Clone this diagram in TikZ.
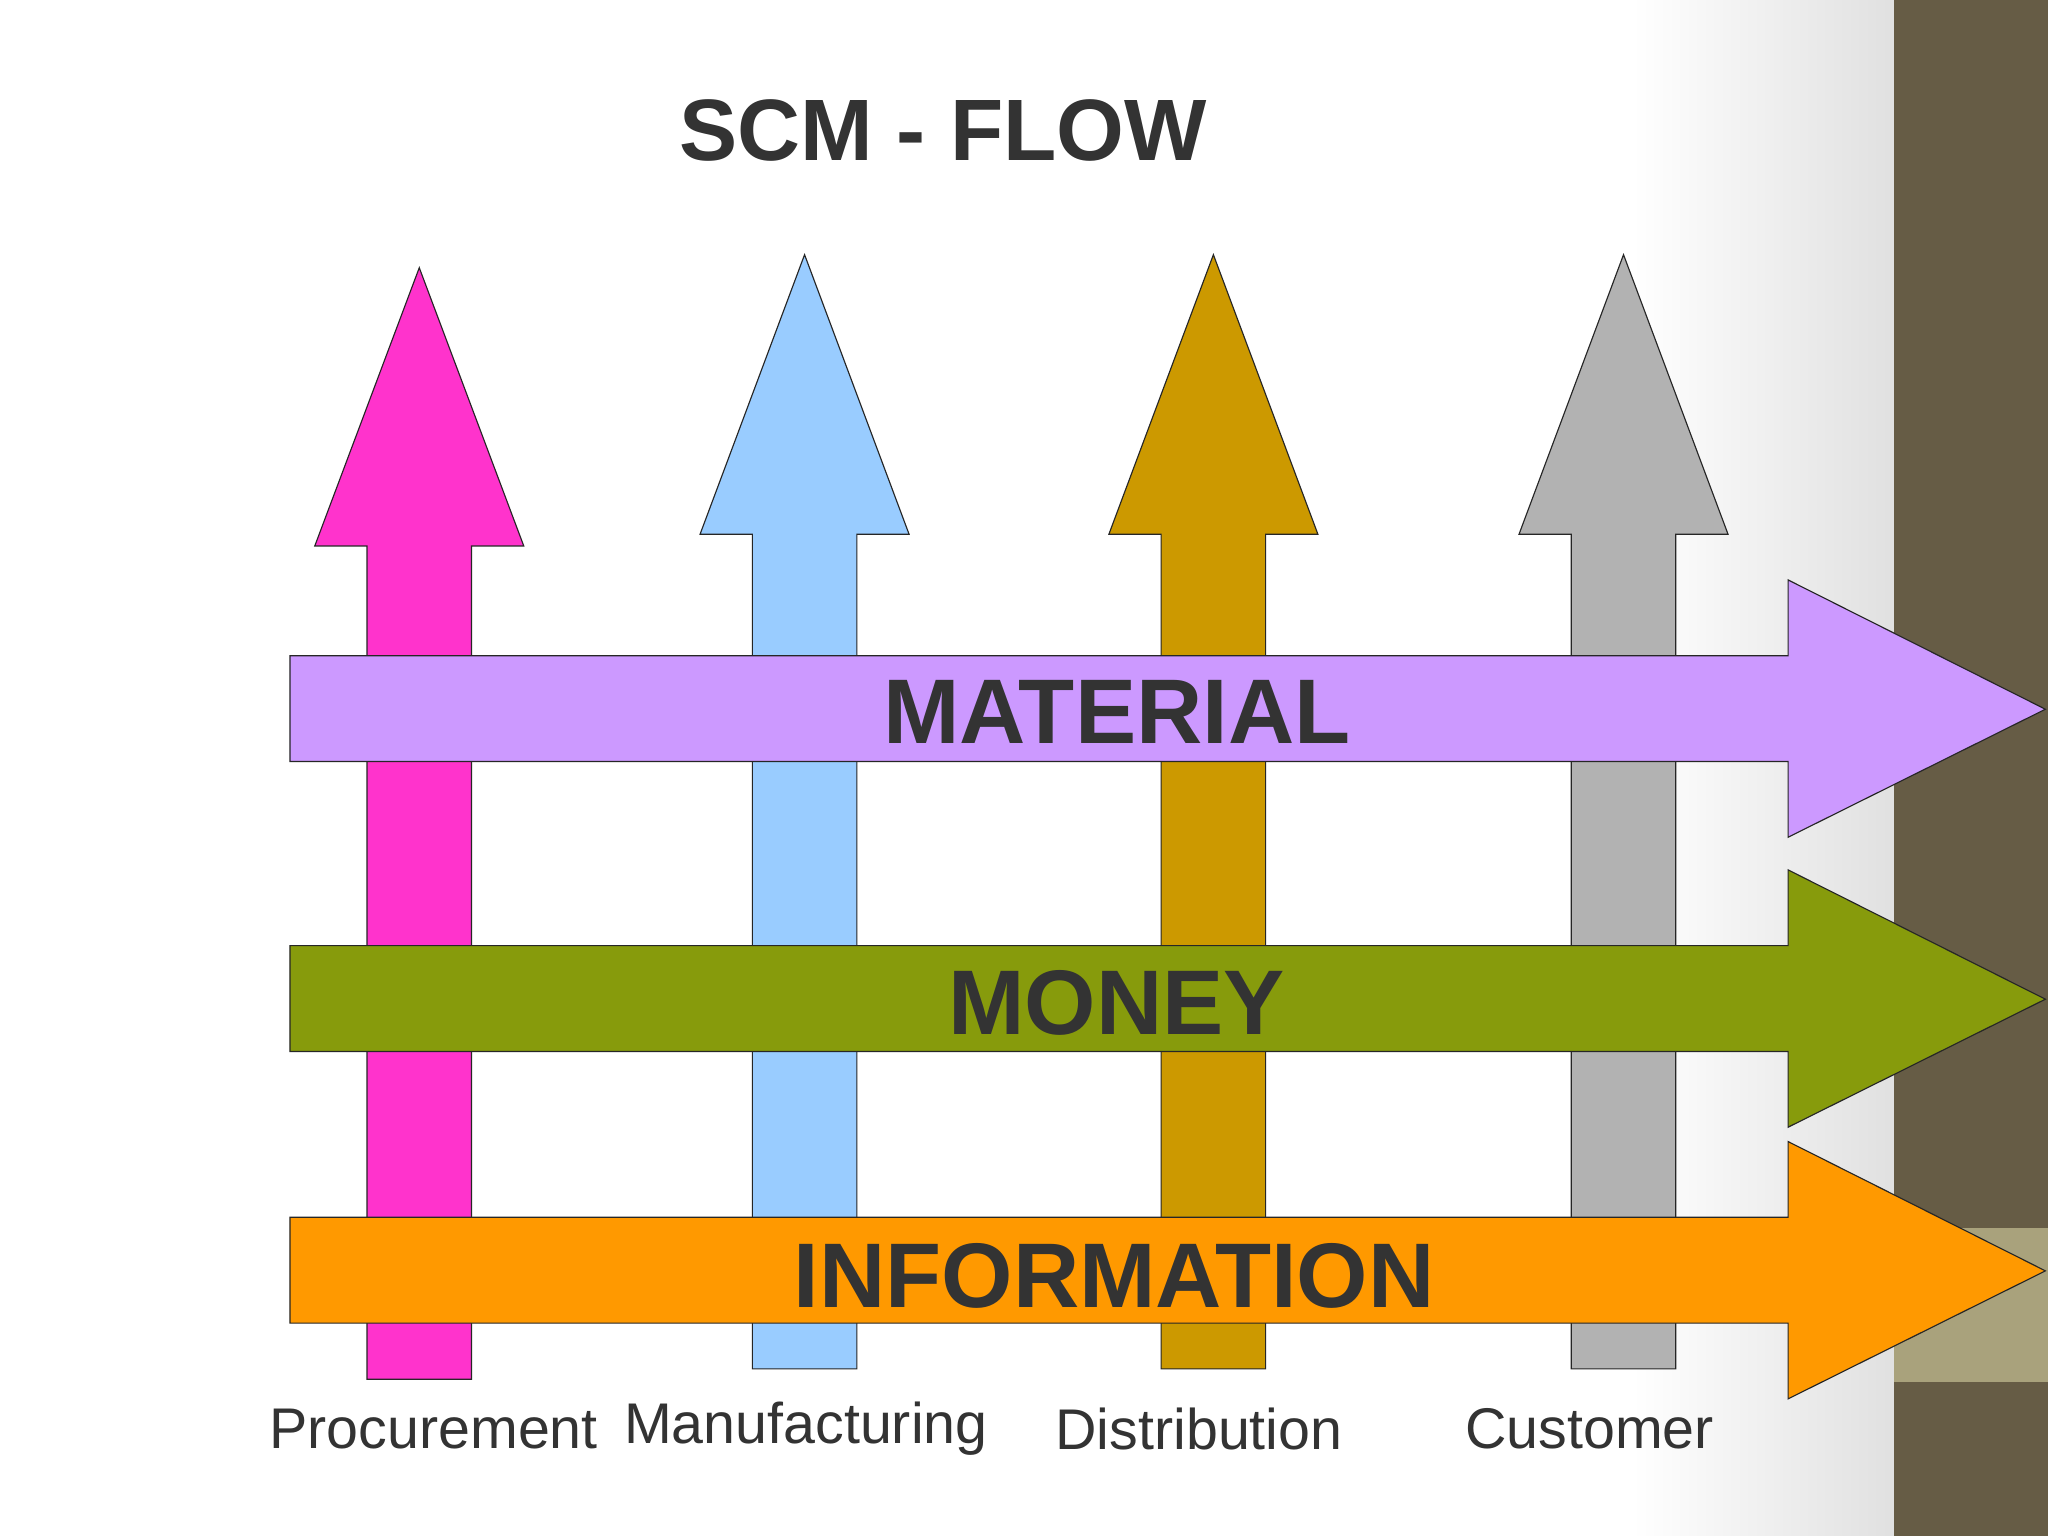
\documentclass[tikz,border=0pt]{standalone}
\usepackage{fontspec}
\setmainfont{Liberation Sans}
\begin{document}
\begin{tikzpicture}[x=0.02cm,y=-0.02cm,
  arr/.style={draw=black!85,line width=0.5pt},
  big/.style={font=\fontsize{40}{44}\selectfont\bfseries,text=black!80},
  lab/.style={font=\fontsize{25}{28}\selectfont,text=black!80}]
\useasboundingbox (0,0) rectangle (1568,1176);
\shade[left color=white,right color=black!12] (1250,0) rectangle (1450,1176);
\fill[white] (0,0) rectangle (1250,1176);
\fill[fill={rgb,255:red,102;green,92;blue,69}] (1450,0) rectangle (1568,1176);
\fill[fill={rgb,255:red,169;green,162;blue,124}] (1450,940) rectangle (1568,1058);
\node[big,font=\fontsize{38}{42}\selectfont\bfseries] (title) at (722,100) {SCM - FLOW};
% vertical arrows
\filldraw[arr,fill={rgb,255:red,255;green,51;blue,204}] (281,1056)--(281,418)--(241,418)--(321,205)--(401,418)--(361,418)--(361,1056)--cycle;
\foreach \c/\col in {616/{rgb,255:red,153;green,204;blue,255},929/{rgb,255:red,204;green,153;blue,0},1243/{rgb,255:red,178;green,178;blue,178}}{
\filldraw[arr,fill=\col] (\c-40,1048)--(\c-40,409)--(\c-80,409)--(\c,195)--(\c+80,409)--(\c+40,409)--(\c+40,1048)--cycle;}
% horizontal arrows
\foreach \y/\col in {543/{rgb,255:red,204;green,153;blue,255},765/{rgb,255:red,135;green,155;blue,12},973/{rgb,255:red,255;green,153;blue,0}}{
\filldraw[arr,fill=\col] (222,\y-41)--(1369,\y-41)--(1369,\y-99)--(1566,\y)--(1369,\y+98)--(1369,\y+40)--(222,\y+40)--cycle;}
\node[big] (mat) at (855,545) {MATERIAL};
\node[big] (mon) at (855,768) {MONEY};
\node[big] (inf) at (853,977) {INFORMATION};
\node[lab] (p) at (332,1094) {Procurement};
\node[lab] (m) at (617,1094) {Manufacturing};
\node[lab] (d) at (918,1094) {Distribution};
\node[lab] (c) at (1217,1094) {Customer};
\end{tikzpicture}
\end{document}
